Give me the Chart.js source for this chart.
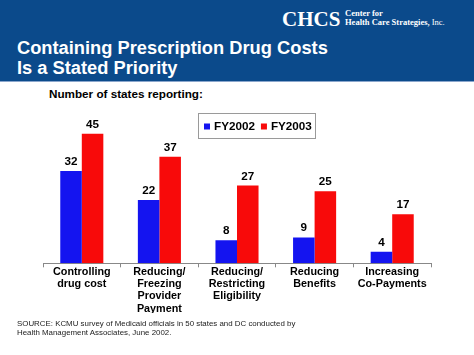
<!DOCTYPE html>
<html>
<head>
<meta charset="utf-8">
<script src="https://cdn.jsdelivr.net/npm/chart.js@4.4.0/dist/chart.umd.min.js"></script>
<style>
  html, body { margin: 0; padding: 0; background: #fff; }
  #wrap { position: relative; width: 474px; height: 355px; overflow: hidden; font-family: "Liberation Sans", Arial, sans-serif; }
  #band { position: absolute; left: 0; top: 0; width: 474px; height: 81px; background: #0b4a8b; border-bottom: 1px solid #8aa6cc; }
  .t { position: absolute; white-space: nowrap; }
  #title { left: 17px; top: 38px; color: #fff; font-weight: bold; font-size: 18.3px; line-height: 20px; }
  #logo { left: 282px; top: 9px; color: #fff; font-family: "Liberation Serif", "Times New Roman", serif; font-weight: bold; font-size: 21px; line-height: 21px; }
  #logo2 { left: 345px; top: 9px; color: #fff; font-family: "Liberation Serif", "Times New Roman", serif; font-weight: bold; font-size: 8.5px; line-height: 9.2px; }
  #logo2 span { font-weight: normal; }
  #sub { left: 49px; top: 87px; font-weight: bold; font-size: 11.7px; line-height: 13px; color: #000; }
  #src { left: 17px; top: 319px; font-size: 7.9px; line-height: 9px; color: #222; }
  canvas { position: absolute; left: 0; top: 0; }
</style>
</head>
<body>
<div id="wrap">
  <div id="band"></div>
  <div class="t" id="logo">CHCS</div>
  <div class="t" id="logo2">Center for<br>Health Care Strategies, <span>Inc.</span></div>
  <div class="t" id="title">Containing Prescription Drug Costs<br>Is a Stated Priority</div>
  <div class="t" id="sub">Number of states reporting:</div>
  <canvas id="grafico" width="474" height="355"></canvas>
  <div class="t" id="src">SOURCE: KCMU survey of Medicaid officials in 50 states and DC conducted by<br>Health Management Associates, June 2002.</div>
</div>
<script>
const categorias = [
    ['Controlling', 'drug cost'],
    ['Reducing/', 'Freezing', 'Provider', 'Payment'],
    ['Reducing/', 'Restricting', 'Eligibility'],
    ['Reducing', 'Benefits'],
    ['Increasing', 'Co-Payments']
];
const fy2002 = [32, 22, 8, 9, 4];
const fy2003 = [45, 37, 27, 25, 17];
const series = ['FY2002', 'FY2003'];

const fuente = 'Liberation Sans, Arial, sans-serif';

// numbers above the bars
const etiquetas = {
    id: 'etiquetas',
    afterDatasetsDraw(chart) {
        const ctx = chart.ctx;
        ctx.save();
        ctx.font = 'bold 11.7px ' + fuente;
        ctx.fillStyle = '#000';
        ctx.textAlign = 'center';
        ctx.textBaseline = 'alphabetic';
        chart.data.datasets.forEach((ds, i) => {
            chart.getDatasetMeta(i).data.forEach((bar, j) => {
                ctx.fillText(ds.data[j], bar.x, bar.y - 6);
            });
        });
        ctx.restore();
    }
};

// boxed legend sitting inside the plot
const leyenda = {
    id: 'leyenda',
    afterDraw(chart) {
        const ctx = chart.ctx;
        const area = chart.chartArea;
        ctx.save();
        ctx.font = 'bold 11.7px ' + fuente;
        ctx.textBaseline = 'middle';
        ctx.textAlign = 'left';
        const cuadro = 6, hueco = 4, sep = 6;
        let ancho = 0;
        chart.data.datasets.forEach((ds, i) => {
            ancho += cuadro + hueco + ctx.measureText(ds.label).width;
            if (i > 0) ancho += sep;
        });
        const x0 = Math.round(area.left + 155) + 0.5;
        const y0 = 113.5;
        ctx.strokeStyle = '#9a9a9a';
        ctx.lineWidth = 1;
        ctx.strokeRect(x0, y0, Math.round(ancho + 9), 25);
        let x = x0 + 5.5;
        const yc = y0 + 13;
        chart.data.datasets.forEach(ds => {
            ctx.fillStyle = ds.backgroundColor;
            ctx.fillRect(x, yc - 3, cuadro, cuadro);
            x += cuadro + hueco;
            ctx.fillStyle = '#000';
            ctx.fillText(ds.label, x, yc);
            x += ctx.measureText(ds.label).width + sep;
        });
        ctx.restore();
    }
};

new Chart(document.getElementById('grafico'), {
    type: 'bar',
    data: {
        labels: categorias,
        datasets: [
            { label: series[0], data: fy2002, backgroundColor: '#1414f0', borderWidth: 0 },
            { label: series[1], data: fy2003, backgroundColor: '#f80a0a', borderWidth: 0 }
        ]
    },
    options: {
        responsive: false,
        animation: false,
        devicePixelRatio: 1,
        layout: { padding: { left: 43, right: 43, top: 113.5, bottom: 42 } },
        datasets: { bar: { categoryPercentage: 0.555, barPercentage: 1.0 } },
        plugins: {
            tooltip: { enabled: false },
            legend: { display: false }
        },
        scales: {
            y: { display: false, min: 0, max: 52 },
            x: {
                grid: { display: true, drawOnChartArea: false, drawTicks: true, tickLength: 4, color: '#888', offset: true },
                border: { display: true, color: '#888', width: 1 },
                ticks: {
                    color: '#000',
                    padding: -2,
                    maxRotation: 0,
                    autoSkip: false,
                    font: { family: fuente, size: 10.8, weight: 'bold', lineHeight: 1.15 }
                }
            }
        }
    },
    plugins: [etiquetas, leyenda]
});
</script>
</body>
</html>
